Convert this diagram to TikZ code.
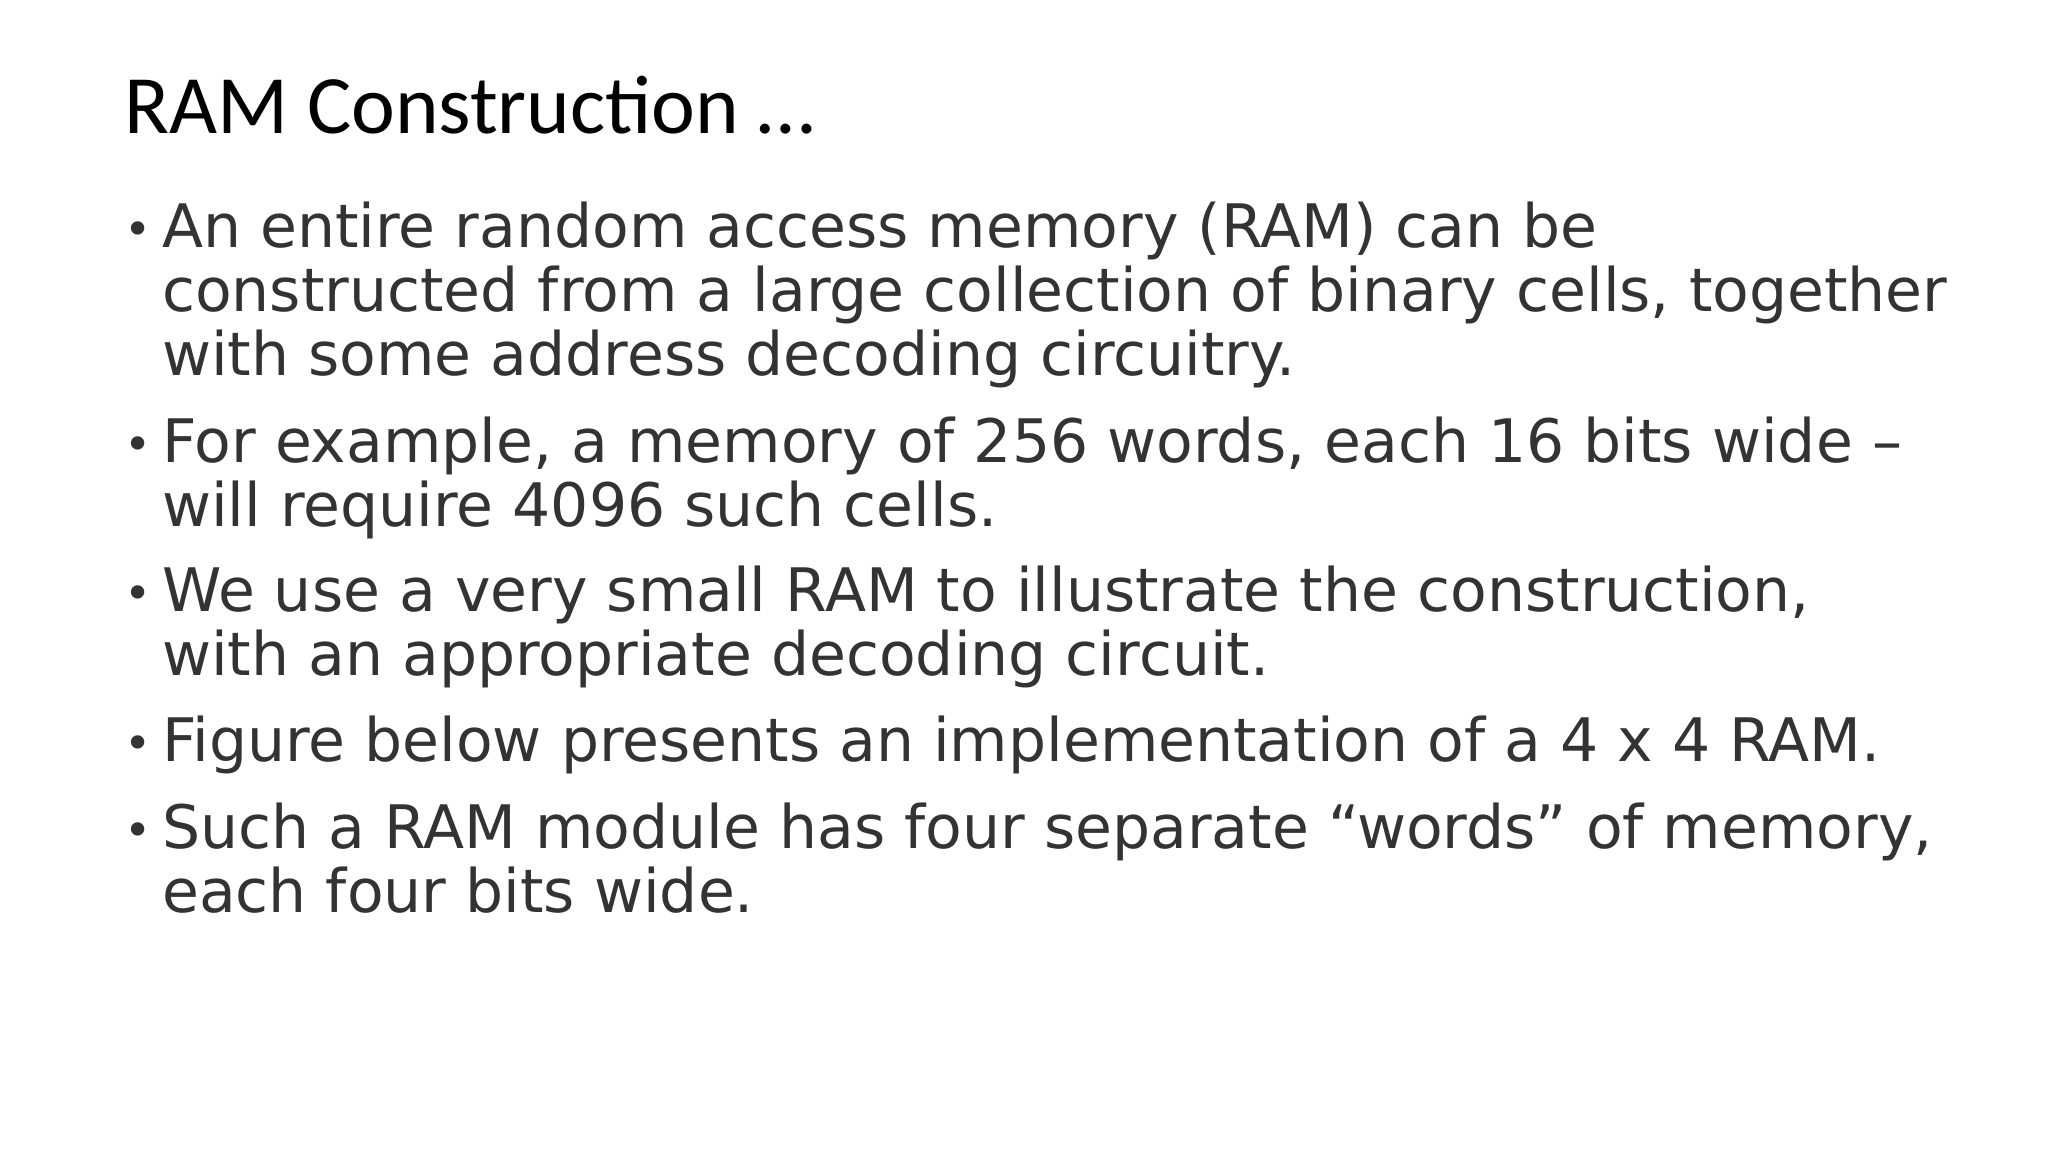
\documentclass[tikz,border=0pt]{standalone}
\usepackage{fontspec}
\setmainfont{DejaVu Sans}
\newfontfamily\titlefont{Carlito}
\definecolor{txt}{HTML}{333333}
\begin{document}
\begin{tikzpicture}[x=1pt,y=-1pt,
  line/.style={anchor=base west,inner sep=0pt,text=txt,font=\fontsize{60}{60}\selectfont},
  bul/.style={anchor=base west,inner sep=0pt,text=txt,font=\fontsize{46}{46}\selectfont}]
\useasboundingbox (0,0) rectangle (2048,1152);
\node[anchor=base west,inner sep=0pt,text=black,font=\titlefont\fontsize{83}{83}\selectfont] (title) at (124,133) {RAM Construction …};
\foreach \y in {245,460,609,759,846} \node[bul] at (124,\y) {•};
\node[line] (l1) at (162,247) {An entire random access memory (RAM) can be};
\node[line] (l2) at (162,311) {constructed from a large collection of binary cells, together};
\node[line] (l3) at (162,375) {with some address decoding circuitry.};
\node[line] (l4) at (162,462) {For example, a memory of 256 words, each 16 bits wide –};
\node[line] (l5) at (162,526) {will require 4096 such cells.};
\node[line] (l6) at (162,611) {We use a very small RAM to illustrate the construction,};
\node[line] (l7) at (162,675) {with an appropriate decoding circuit.};
\node[line] (l8) at (162,761) {Figure below presents an implementation of a 4 x 4 RAM.};
\node[line] (l9) at (162,848) {Such a RAM module has four separate “words” of memory,};
\node[line] (l10) at (162,912) {each four bits wide.};
\end{tikzpicture}
\end{document}
